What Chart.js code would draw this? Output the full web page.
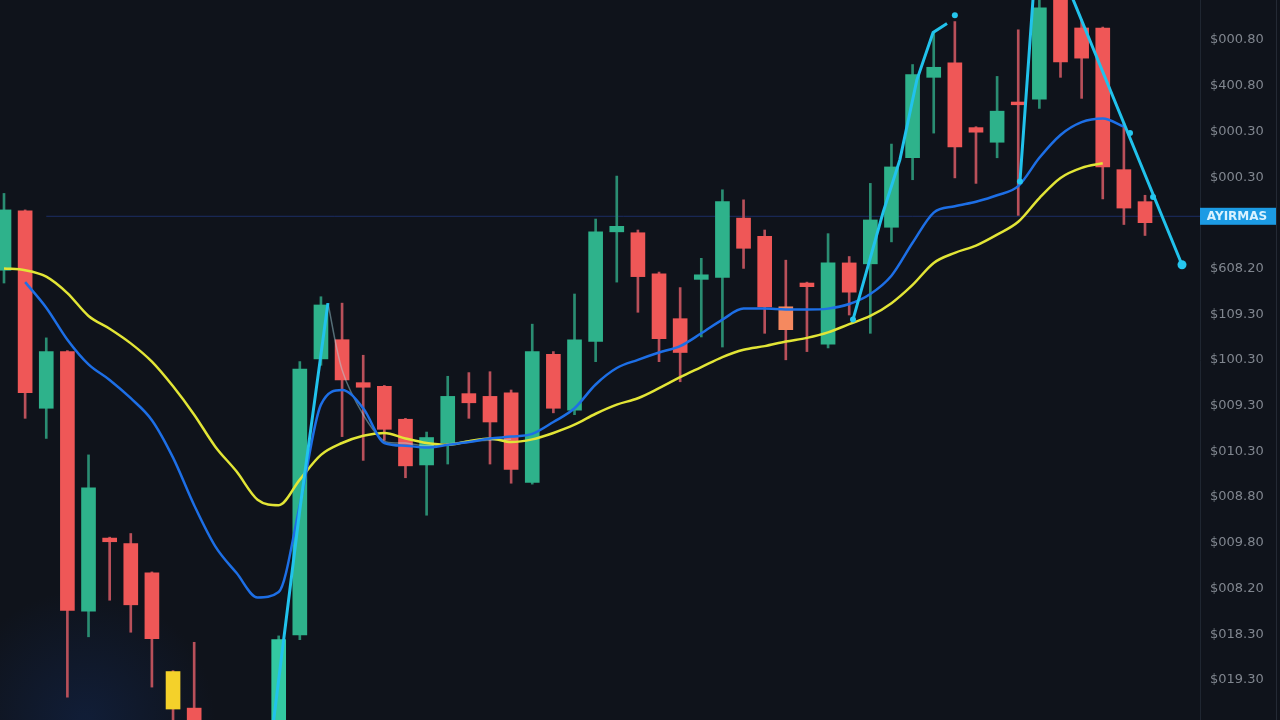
<!DOCTYPE html>
<html>
<head>
<meta charset="utf-8">
<script src="https://cdn.jsdelivr.net/npm/chart.js@4.4.1/dist/chart.umd.min.js"></script>
<style>
  html, body { margin: 0; padding: 0; background: #0f131b; overflow: hidden; }
  #wrap { width: 1280px; height: 720px; position: relative; }
</style>
</head>
<body>
<div id="wrap"><canvas id="c" width="1280" height="720"></canvas></div>
<script>
// ---------- DATA ----------
// candle OHLC per bar index (null = no candle visible)
const opens  = [5446,5511,5295,5357,5073,5153,5147,5115,5007,4967, null,null,null,4910,5047,5349,5370,5323,5319,5283, 5233,5257,5311,5308,5312,5214,5354,5293,5368,5488, 5487,5442,5393,5436,5438,5503,5483,5406,5432,5365, 5454,5453,5493,5569,5657,5673,5602,5586,5630,5633, 5763,5711,5711,5556,5521];
const highs  = [5530,5512,5372,5358,5244,5154,5158,5116,5008,5039, null,null,null,5046,5346,5417,5410,5353,5320,5284, 5269,5330,5334,5335,5315,5387,5357,5420,5502,5549, 5490,5444,5427,5459,5534,5523,5490,5457,5433,5486, 5461,5541,5584,5671,5707,5718,5603,5658,5709,5753, 5774,5720,5712,5607,5528];
const lows   = [5432,5284,5262,4979,5045,5085,5050,4990,4932,4899, null,null,null,4888,5042,5342,5264,5238,5260,5219, 5178,5234,5284,5234,5213,5212,5290,5288,5346,5433, 5400,5346,5324,5373,5362,5448,5377,5348,5357,5361, 5397,5377,5477,5545,5596,5547,5541,5569,5506,5623, 5657,5634,5524,5496,5484];
const closes = [5512,5312,5357,5074,5208,5149,5080,5043,4966,4910, null,null,null,5042,5338,5408,5326,5318,5272,5232, 5263,5308,5301,5280,5228,5357,5295,5370,5488,5494, 5439,5371,5356,5441,5521,5470,5406,5381,5428,5454, 5422,5501,5559,5660,5668,5581,5597,5620,5627,5733, 5674,5678,5559,5514,5498];

// moving averages
const maYellow = [5448,5446,5439,5421,5396,5382,5366,5346,5319,5288, 5253,5226,5195,5189,5217,5244,5257,5265,5268,5262, 5257,5255,5259,5262,5258,5261,5268,5277,5289,5299, 5306,5317,5329,5340,5351,5359,5363,5368,5372,5378, 5387,5396,5410,5430,5454,5465,5473,5485,5499,5525, 5547,5558,5563,null,null];
const maBlue   = [null,5433,5405,5370,5343,5326,5306,5282,5241,5189, 5144,5115,5088,5094,5189,5299,5315,5295,5257,5254, 5252,5255,5258,5262,5264,5267,5280,5295,5321,5339, 5348,5356,5363,5377,5392,5404,5404,5403,5403,5404, 5409,5420,5440,5476,5509,5516,5521,5528,5538,5569, 5594,5608,5612,5603,null];

// zigzag pivots (bar index, price); null breaks the line
const zzX = [12, 13, 14, 15.33, 15.5, 40.18, 41.6, 42.4, 43.2, 43.97, 44.63, 46, 48.08, 48.98, 55.75];
const zzY = [4812, 4998, 5184, 5410, null, 5392, 5509, 5567, 5654, 5706, 5716, null, 5543, 5833, 5452];
// faint trailing line after first pivot
const faintX = [15.33, 16, 17, 18, 19, 20, 21, 22, 23, 24];
const faintY = [5410, 5337, 5288, 5259, 5257, 5254, 5256, 5259, 5260, 5261];
// zigzag markers
const dotX = [40.18, 45.0, 48.08, 53.29, 54.38, 55.75];
const dotY = [5392, 5725, 5543, 5596, 5526, 5452];

// reference level line + label
const refLevel = 5505;
const refFrom = 2, refTo = 56.7;
const levelText = 'AYIRMAS';

// y-axis ticks
const tickValues = [5000,5050,5100,5150,5200,5250,5300,5350,5400,5450,5550,5600,5650,5700];
const tickLabels = ['$019.30','$018.30','$008.20','$009.80','$008.80','$010.30','$009.30','$100.30','$109.30','$608.20','$000.30','$000.30','$400.80','$000.80'];

// ---------- STYLE ----------
const UP = '#2eb28b', DOWN = '#ef5757', UPW = '#2a8d72', DOWNW = '#b9505a';
const special = {8: '#f4d12a', 13: '#33c9a1', 37: '#f5895f'};

const idx = opens.map((_, i) => i);
const valid = idx.filter(i => opens[i] !== null);
const isUp = i => closes[i] >= opens[i];
const bodyColor = i => special[i] || (isUp(i) ? UP : DOWN);
const wickColor = i => (isUp(i) ? UPW : DOWNW);

const bgPlugin = {
  id: 'bg',
  beforeDraw(chart) {
    const ctx = chart.ctx;
    ctx.save();
    ctx.fillStyle = '#0f131b';
    ctx.fillRect(0, 0, chart.width, chart.height);
    const g = ctx.createRadialGradient(85, 720, 5, 85, 720, 130);
    g.addColorStop(0, 'rgba(20,48,105,0.35)');
    g.addColorStop(1, 'rgba(20,48,105,0)');
    ctx.fillStyle = g;
    ctx.fillRect(0, 560, 260, 160);
    ctx.strokeStyle = 'rgba(45,52,64,0.7)';
    ctx.lineWidth = 1;
    ctx.beginPath(); ctx.moveTo(1276.5, 0); ctx.lineTo(1276.5, chart.height); ctx.stroke();
    ctx.restore();
  }
};

const labelPlugin = {
  id: 'levelLabel',
  afterDraw(chart) {
    const ys = chart.scales.y;
    const y = ys.getPixelForValue(refLevel);
    const x0 = chart.chartArea.right;
    const ctx = chart.ctx;
    ctx.save();
    ctx.fillStyle = '#1c9be4';
    ctx.fillRect(x0, y - 8.5, 76, 17);
    ctx.fillStyle = '#d9f2ff';
    ctx.font = 'bold 12px "DejaVu Sans"';
    ctx.textAlign = 'center';
    ctx.textBaseline = 'middle';
    ctx.fillText(levelText, x0 + 37, y + 0.5);
    ctx.restore();
  }
};

const xMin = -4 / 21.13, xMax = 1196 / 21.13;

new Chart(document.getElementById('c'), {
  type: 'bar',
  data: {
    datasets: [
      {
        type: 'line', label: 'level',
        data: [{x: refFrom, y: refLevel}, {x: refTo, y: refLevel}],
        borderColor: 'rgba(36,62,150,0.6)', borderWidth: 1, pointRadius: 0, order: 20
      },
      {
        label: 'wicks',
        data: valid.map(i => ({x: i, y: [lows[i], highs[i]]})),
        backgroundColor: valid.map(wickColor),
        barThickness: 2, grouped: false, order: 12
      },
      {
        label: 'bodies',
        data: valid.map(i => ({x: i, y: [opens[i], closes[i]]})),
        backgroundColor: valid.map(bodyColor),
        barThickness: 14, grouped: false, order: 11
      },
      {
        type: 'line', label: 'faint',
        data: faintX.map((x, k) => ({x, y: faintY[k]})),
        borderColor: 'rgba(170,222,232,0.45)', borderWidth: 1.5, pointRadius: 0,
        tension: 0.3, order: 5
      },
      {
        type: 'line', label: 'MA slow',
        data: idx.map(i => ({x: i, y: maYellow[i]})),
        borderColor: '#e2e536', borderWidth: 2.5, pointRadius: 0,
        cubicInterpolationMode: 'monotone', spanGaps: false, order: 4
      },
      {
        type: 'line', label: 'MA fast',
        data: idx.map(i => ({x: i, y: maBlue[i]})),
        borderColor: '#1d6fe6', borderWidth: 2.5, pointRadius: 0,
        cubicInterpolationMode: 'monotone', spanGaps: false, order: 3
      },
      {
        type: 'line', label: 'zigzag',
        data: zzX.map((x, k) => ({x, y: zzY[k]})),
        borderColor: '#21c2ec', borderWidth: 3, pointRadius: 0,
        tension: 0, spanGaps: false, order: 2
      },
      {
        type: 'line', label: 'pivots',
        data: dotX.map((x, k) => ({x, y: dotY[k]})),
        showLine: false, pointRadius: [3, 3, 3, 3, 3, 4.5], pointHoverRadius: 0,
        pointBackgroundColor: '#25c6ee', pointBorderWidth: 0, order: 1
      }
    ]
  },
  options: {
    responsive: false,
    animation: false,
    devicePixelRatio: 1,
    layout: { padding: 0, autoPadding: false },
    plugins: { legend: { display: false }, tooltip: { enabled: false } },
    scales: {
      x: {
        type: 'linear', min: xMin, max: xMax, display: false, offset: false,
        afterFit: s => { s.paddingLeft = 0; s.paddingRight = 0; }
      },
      y: {
        position: 'right', min: 4954, max: 5741.6,
        afterBuildTicks: s => { s.ticks = tickValues.map(v => ({value: v})); },
        afterFit: s => { s.width = 80; s.paddingTop = 0; s.paddingBottom = 0; },
        ticks: {
          autoSkip: false,
          callback: (v, i) => tickLabels[i],
          color: '#80868f',
          font: { family: 'DejaVu Sans', size: 13 },
          padding: 10,
          labelOffset: 2,
          crossAlign: 'center'
        },
        grid: { display: false, drawTicks: false },
        border: { display: true, color: '#1f2631', width: 1 }
      }
    }
  },
  plugins: [bgPlugin, labelPlugin]
});
</script>
</body>
</html>
